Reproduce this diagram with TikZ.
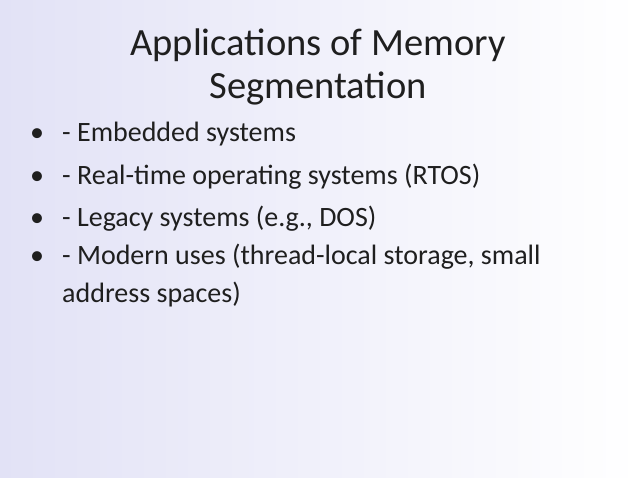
\documentclass[tikz,border=0pt]{standalone}
\usepackage{fontspec}
\setmainfont{Carlito}
\begin{document}
\begin{tikzpicture}[x=1pt,y=-1pt,
  title/.style={font=\fontsize{38.5}{46}\selectfont, text=black!88, anchor=base, inner sep=0},
  item/.style={font=\fontsize{28}{38}\selectfont, text=black!88, anchor=base west, inner sep=0},
  dot/.style={font=\fontsize{28}{38}\selectfont, text=black!88, anchor=base west, inner sep=0}]
\shade[left color={rgb,255:red,226;green,226;blue,246}, right color=white] (0,0) rectangle (638,478);
\useasboundingbox (0,0) rectangle (638,478);
\node[title] (t1) at (318,56) {Applications of Memory};
\node[title] (t2) at (318,99) {Segmentation};
\node[dot] (b1) at (30,142) {•};
\node[item] (i1) at (62,142) {- Embedded systems};
\node[dot] (b2) at (30,185) {•};
\node[item] (i2) at (62,185) {- Real-time operating systems (RTOS)};
\node[dot] (b3) at (30,227) {•};
\node[item] (i3) at (62,227) {- Legacy systems (e.g., DOS)};
\node[dot] (b4) at (30,265) {•};
\node[item] (i4) at (62,265) {- Modern uses (thread-local storage, small};
\node[item] (i5) at (62,303) {address spaces)};
\end{tikzpicture}
\end{document}
